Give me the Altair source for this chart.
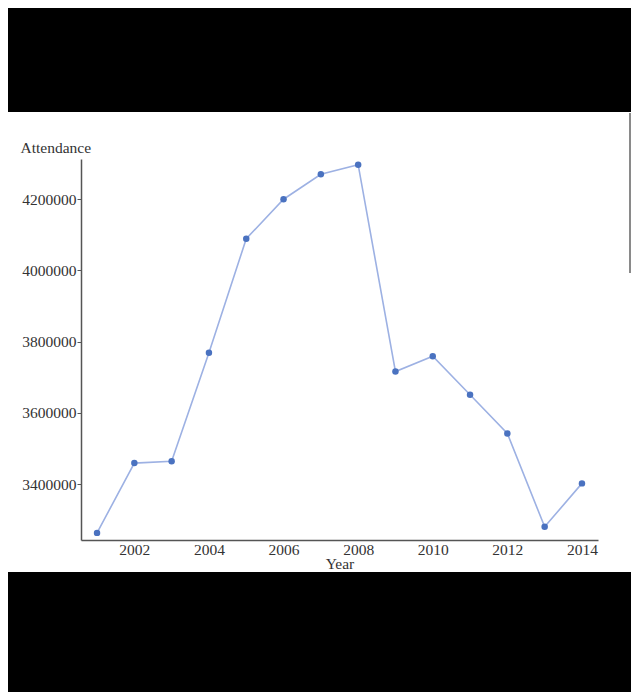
import altair as alt
import pandas as pd

# values
years = [2001, 2002, 2003, 2004, 2005, 2006, 2007,
         2008, 2009, 2010, 2011, 2012, 2013, 2014]
attendance = [3263000, 3459000, 3464000, 3769000, 4089000, 4200000, 4270000,
              4297000, 3716000, 3759000, 3651000, 3542000, 3280000, 3402000]
y_ticks = [3400000, 3600000, 3800000, 4000000, 4200000]
x_ticks = [2002, 2004, 2006, 2008, 2010, 2012, 2014]

df = pd.DataFrame({"Year": years, "Attendance": attendance})

FONT = "Liberation Serif"
PLOT_W, PLOT_H = 517, 381

x_enc = alt.X(
    "Year:Q",
    scale=alt.Scale(domain=[2000.57, 2014.43], nice=False, zero=False),
    axis=alt.Axis(
        values=x_ticks, format="d", grid=False, ticks=False, zindex=1,
        labelPadding=2, labelFontSize=15.5, labelFont=FONT, labelColor="#333",
        domainColor="#555", domainWidth=1.5,
        title="Year", titleFont=FONT, titleFontSize=15.5, titleFontWeight="normal",
        titleColor="#333", titleY=23, titleBaseline="middle",
    ),
)
y_enc = alt.Y(
    "Attendance:Q",
    scale=alt.Scale(domain=[3243000, 4313000], nice=False, zero=False),
    axis=alt.Axis(
        values=y_ticks, format="d", grid=False, tickSize=4, tickColor="#555",
        zindex=1,
        labelPadding=1, labelFontSize=15.5, labelFont=FONT, labelColor="#333",
        domainColor="#555", domainWidth=1.5,
        title="Attendance", titleFont=FONT, titleFontSize=15.5,
        titleFontWeight="normal", titleColor="#333", titleAngle=0,
        titleAlign="left", titleBaseline="middle", titleX=-61, titleY=-12,
    ),
)

# white page region behind the chart, and the browser scrollbar
page = alt.Chart(df).mark_rect(color="white", clip=False).encode(
    x=alt.value(-73), x2=alt.value(551), y=alt.value(-47), y2=alt.value(413)
)
scrollbar = alt.Chart(df).mark_rect(color="#8a8a8a", cornerRadius=1.5, clip=False).encode(
    x=alt.value(548), x2=alt.value(551), y=alt.value(-46), y2=alt.value(114)
)

line = alt.Chart(df).mark_line(color="#9db1e3", strokeWidth=1.6).encode(x=x_enc, y=y_enc)
points = alt.Chart(df).mark_point(
    filled=True, color="#4a72c0", size=42, opacity=1
).encode(x="Year:Q", y="Attendance:Q")

chart = alt.layer(page, scrollbar, line, points).properties(
    width=PLOT_W,
    height=PLOT_H,
    autosize=alt.AutoSizeParams(type="none"),
    padding={"left": 73, "top": 151, "right": 33, "bottom": 152},
    background="black",
).configure_view(stroke=None)

chart.save("out.html", embed_options={"renderer": "svg", "actions": False})
